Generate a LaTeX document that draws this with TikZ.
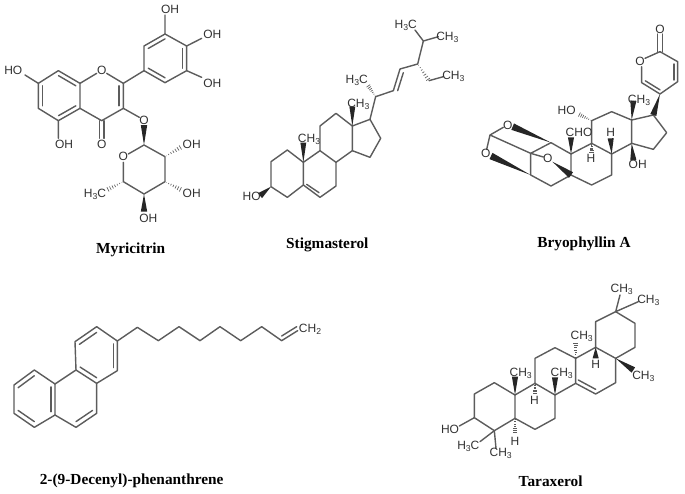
\documentclass[tikz,border=0pt]{standalone}
\usepackage{fontspec}
\setmainfont{Liberation Serif}
\newfontfamily\atomfont{Liberation Sans}
\usetikzlibrary{calc}
\definecolor{bondc}{RGB}{92,92,92}
\definecolor{atomc}{RGB}{50,50,50}
\tikzset{
  bond/.style={draw=bondc,line width=1.05pt,line join=round,line cap=round},
  hashb/.style={draw=bondc,line width=0.5pt},
  wedgeb/.style={fill=black!85,draw=none},
  atom/.style={text=atomc,inner sep=0pt,font=\atomfont\fontsize{9}{10}\selectfont},
  title/.style={text=black,inner sep=0pt,font=\bfseries\fontsize{11.5}{12}\selectfont},
  zm/.style={x=0.25pt,y=-0.25pt}
}
\newcommand{\sbs}[1]{\raisebox{-0.35ex}{\fontsize{6.5}{6.5}\selectfont #1}}
% bond chain helpers
\newcommand{\inb}[3]{\draw[bond] ($(#1)!.2!(#3)$) -- ($(#2)!.2!(#3)$);}
\newcommand{\wdg}[3]{\fill[wedgeb] (#1) -- ($(#2)!#3!90:(#1)$) -- ($(#2)!#3!-90:(#1)$) -- cycle;}
\newcommand{\hsh}[3]{\foreach \t in {.08,.22,.36,.50,.64,.78,.92}{\draw[hashb] ($(#1)!\t!(#2)!\t*#3!90:(#2)$) -- ($(#1)!\t!(#2)!\t*#3!-90:(#2)$);}}
\begin{document}
\begin{tikzpicture}[x=0.75pt,y=-0.75pt]
\useasboundingbox (0,0) rectangle (685,493);

% ---------------- Myricitrin
\begin{scope}[shift={(0,0)},zm]
\draw[bond] (115,250)--(175,212)--(240,250)--(240,325)--(175,362)--(115,325)--cycle;
\draw[bond] (240,250)--(290,220) (320,220)--(370,250)--(370,325)--(305,362)--(240,325);
\draw[bond] (370,250)--(432,212);
\draw[bond] (432,212)--(432,138)--(495,102)--(560,138)--(560,212)--(495,248)--cycle;
\inb{115,325}{115,250}{178,287} \inb{175,212}{240,250}{178,287} \inb{240,325}{175,362}{178,287}
\inb{370,250}{370,325}{305,287}
\inb{432,138}{495,102}{496,175} \inb{560,138}{560,212}{496,175} \inb{495,248}{432,212}{496,175}
\draw[bond] (298,362)--(298,415) (312,362)--(312,415);
\draw[bond] (115,250)--(75,225) (175,362)--(175,415) (495,102)--(495,45) (560,138)--(605,115) (560,212)--(605,232);
\draw[bond] (370,325)--(418,352);
\draw[bond] (385,462)--(432,435)--(495,470)--(495,545)--(432,582)--(370,545)--(370,487);
\wdg{432,435}{432,375}{2.4pt}
\wdg{432,582}{432,635}{2.4pt}
\hsh{495,470}{545,440}{1.9pt}
\hsh{495,545}{545,570}{1.9pt}
\hsh{370,545}{320,570}{1.9pt}
\node[atom] (m1) at (40,212) {HO};
\node[atom] (m2) at (305,212) {O};
\node[atom] (m3) at (510,28) {OH};
\node[atom] (m4) at (637,102) {OH};
\node[atom] (m5) at (637,250) {OH};
\node[atom] (m6) at (192,433) {OH};
\node[atom] (m7) at (305,433) {O};
\node[atom] (m8) at (432,360) {O};
\node[atom] (m9) at (370,470) {O};
\node[atom] (m10) at (575,432) {OH};
\node[atom] (m11) at (575,580) {OH};
\node[atom] (m12) at (445,655) {OH};
\node[atom] (m13) at (285,582) {H\sbs{3}C};
\node[title] (mt) at (392,748) {Myricitrin};
\end{scope}

% ---------------- Stigmasterol
\begin{scope}[shift={(235,0)},zm]
\draw[bond] (108,560)--(108,485)--(157,450)--(205,487)--(205,555)--(157,592)--cycle;
\draw[bond] (205,555)--(255,592)--(303,558)--(303,487)--(255,452)--(205,487);
\draw[bond] (255,452)--(255,378)--(303,340)--(352,378)--(352,452)--(303,487);
\draw[bond] (352,378)--(405,358)--(437,415)--(405,472)--(352,452);
\draw[bond] (215,553)--(252,578);
\draw[bond] (405,358)--(422,290)--(475,272)--(495,207)--(548,192)--(565,123)--(610,110);
\draw[bond] (488,272)--(505,218);
\draw[bond] (565,123)--(540,90);
\draw[bond] (582,242)--(625,230);
\wdg{108,560}{75,587}{2.4pt}
\wdg{205,487}{205,428}{2.2pt}
\wdg{352,378}{352,320}{2.2pt}
\hsh{422,290}{398,255}{1.8pt}
\hsh{548,192}{582,242}{1.8pt}
\node[atom] (s1) at (50,590) {HO};
\node[atom] (s2) at (222,417) {CH\sbs{3}};
\node[atom] (s3) at (370,312) {CH\sbs{3}};
\node[atom] (s4) at (365,240) {H\sbs{3}C};
\node[atom] (s5) at (512,75) {H\sbs{3}C};
\node[atom] (s6) at (637,112) {CH\sbs{3}};
\node[atom] (s7) at (655,230) {CH\sbs{3}};
\node[title] (st) at (277,735) {Stigmasterol};
\end{scope}

% ---------------- Bryophyllin A
\begin{scope}[shift={(465,10)},zm]
\draw[bond] (585,125)--(638,155)--(638,215)--(585,252)--(530,218)--(530,170);
\draw[bond] (540,145)--(585,125);
\inb{638,155}{638,215}{585,190} \inb{585,252}{530,218}{585,190}
\draw[bond] (578,125)--(578,72) (592,125)--(592,72);
\draw[bond] (565,315)--(605,368)--(565,418)--(500,400)--(500,330)--(565,315);
\draw[bond] (500,330)--(440,305)--(380,332)--(380,400)--(440,432)--(500,400);
\draw[bond] (380,400)--(318,432)--(318,495)--(380,525)--(440,495)--(440,432);
\draw[bond] (318,432)--(258,398)--(197,430)--(197,495)--(258,528)--(318,495);
\draw[bond] (75,375)--(115,352) (75,375)--(65,418) (75,375)--(197,430)--(235,441);
\wdg{585,252}{565,315}{2.4pt}
\wdg{500,330}{505,272}{2.3pt}
\wdg{500,400}{505,450}{2.3pt}
\wdg{440,432}{437,385}{2.3pt}
\wdg{318,432}{318,382}{2.3pt}
\wdg{258,398}{143,350}{2.6pt}
\wdg{197,495}{78,438}{2.6pt}
\wdg{262,455}{318,495}{2.6pt}
\hsh{380,332}{340,312}{1.8pt}
\hsh{380,400}{380,428}{1.8pt}
\node[atom] (b1) at (585,58) {O};
\node[atom] (b2) at (525,155) {O};
\node[atom] (b3) at (522,270) {CH\sbs{3}};
\node[atom] (b4) at (305,300) {HO};
\node[atom] (b5) at (342,366) {CHO};
\node[atom] (b6) at (437,367) {H};
\node[atom] (b7) at (378,445) {H};
\node[atom] (b8) at (518,463) {OH};
\node[atom] (b9) at (128,345) {O};
\node[atom] (b10) at (62,430) {O};
\node[atom] (b11) at (248,445) {O};
\node[title] (bt) at (357,700) {Bryophyllin A};
\end{scope}

% ---------------- 2-(9-Decenyl)-phenanthrene
\begin{scope}[shift={(0,280)},zm]
\draw[bond] (42,315)--(103,270)--(165,312)--(165,405)--(103,442)--(42,400)--cycle;
\draw[bond] (165,312)--(228,270)--(290,310)--(290,400)--(228,442)--(165,405);
\draw[bond] (228,270)--(225,185)--(290,140)--(352,183)--(352,272)--(290,310);
\inb{42,315}{103,270}{103,356} \inb{165,312}{165,405}{103,356} \inb{103,442}{42,400}{103,356}
\inb{290,400}{228,442}{228,356}
\inb{225,185}{290,140}{290,226} \inb{352,183}{352,272}{290,226} \inb{290,310}{228,270}{290,226}
\draw[bond] (352,183)--(412,142)--(475,182)--(537,140)--(600,182)--(660,140)--(722,182)--(785,140)--(845,182)--(893,152);
\draw[bond] (845,168)--(890,140);
\node[atom] (p1) at (930,147) {CH\sbs{2}};
\node[title] (pt) at (395,602) {2-(9-Decenyl)-phenanthrene};
\end{scope}

% ---------------- Taraxerol
\begin{scope}[shift={(430,270)},zm]
\draw[bond] (133,443)--(133,372)--(193,338)--(255,375)--(255,445)--(193,482)--cycle;
\draw[bond] (255,375)--(315,340)--(375,375)--(375,445)--(315,478)--(255,445);
\draw[bond] (315,340)--(315,265)--(375,233)--(437,265)--(437,340)--(375,375);
\draw[bond] (437,265)--(497,232)--(557,265)--(557,338)--(497,372)--(437,340);
\draw[bond] (497,232)--(497,155)--(557,125)--(615,160)--(615,232)--(557,265);
\draw[bond] (445,330)--(497,358);
\draw[bond] (133,443)--(88,468) (193,482)--(150,515) (193,482)--(198,535);
\draw[bond] (557,125)--(570,75) (557,125)--(625,95);
\wdg{255,375}{255,320}{2.3pt}
\wdg{375,375}{375,322}{2.3pt}
\wdg{497,232}{497,265}{2.3pt}
\wdg{557,265}{610,300}{2.4pt}
\hsh{255,445}{255,492}{1.8pt}
\hsh{315,340}{315,372}{1.8pt}
\hsh{437,265}{437,215}{1.8pt}
\node[atom] (t1) at (60,478) {HO};
\node[atom] (t2) at (115,530) {H\sbs{3}C};
\node[atom] (t3) at (212,550) {CH\sbs{3}};
\node[atom] (t4) at (255,515) {H};
\node[atom] (t5) at (272,310) {CH\sbs{3}};
\node[atom] (t6) at (313,390) {H};
\node[atom] (t7) at (395,310) {CH\sbs{3}};
\node[atom] (t8) at (455,200) {CH\sbs{3}};
\node[atom] (t9) at (497,283) {H};
\node[atom] (t10) at (575,58) {CH\sbs{3}};
\node[atom] (t11) at (655,90) {CH\sbs{3}};
\node[atom] (t12) at (640,320) {CH\sbs{3}};
\node[title] (tt) at (362,635) {Taraxerol};
\end{scope}
\end{tikzpicture}
\end{document}
